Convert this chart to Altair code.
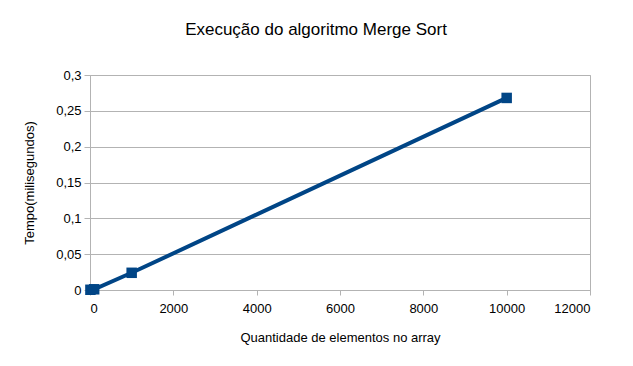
import altair as alt
import pandas as pd

elementos = [10, 100, 1000, 10000]
tempo = [0.0003, 0.001, 0.024, 0.268]

df = pd.DataFrame({"n": elementos, "t": tempo})

x_ticks = [0, 2000, 4000, 6000, 8000, 10000, 12000]
y_ticks = [0, 0.05, 0.1, 0.15, 0.2, 0.25, 0.3]

font = "Liberation Sans"
grey = "#b3b3b3"

x = alt.X("n:Q", scale=alt.Scale(domain=[0, 12000], nice=False),
          axis=alt.Axis(values=x_ticks, tickCount=20, format="d",
                        title="Quantidade de elementos no array",
                        grid=False, tickSize=5, labelPadding=7, titlePadding=16,
                        titleFontWeight="normal", labelOverlap=False))
y = alt.Y("t:Q", scale=alt.Scale(domain=[0, 0.3], nice=False),
          axis=alt.Axis(values=y_ticks, tickCount=20, title="Tempo(milisegundos)",
                        labelExpr="replace(toString(datum.value), '.', ',')",
                        grid=True, tickSize=6, labelPadding=3, titlePadding=19,
                        titleFontWeight="normal", labelOverlap=False))

line = alt.Chart(df).mark_line(color="#004586", strokeWidth=4).encode(x=x, y=y)
pts = alt.Chart(df).mark_point(shape="square", filled=True, size=110, color="#004586", opacity=1).encode(x="n:Q", y="t:Q")

chart = (line + pts).properties(
    width=500, height=215,
    background="white",
    autosize=alt.AutoSizeParams(type="none"),
    padding={"left": 82, "top": 67, "right": 35, "bottom": 68},
    title=alt.Title("Execução do algoritmo Merge Sort", fontSize=17, font=font,
                    fontWeight="normal", color="#000000", dx=-24, offset=30),
).configure_view(stroke=grey, strokeWidth=1).configure_axis(
    labelFont=font, titleFont=font, labelFontSize=13, titleFontSize=13,
    labelColor="#000000", titleColor="#000000", titleFontWeight="normal",
    domainColor=grey, tickColor=grey, gridColor=grey,
)

chart.save("out.html", embed_options={"renderer": "svg", "actions": False})
